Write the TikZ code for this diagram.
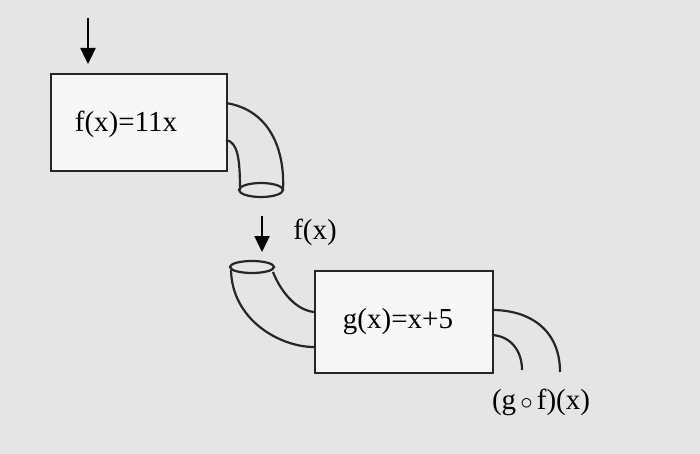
\documentclass[tikz,border=0pt]{standalone}
\usepackage{fontspec}
\setmainfont{Liberation Serif}
\usetikzlibrary{arrows.meta}
\begin{document}
\begin{tikzpicture}[x=1pt,y=-1pt,
  ln/.style={line width=2.2pt,black!85},
  bx/.style={draw=black!85,line width=2.2pt,fill=black!3},
  lbl/.style={font=\fontsize{29}{32}\selectfont},
  arr/.style={line width=2.4pt,-{Triangle[length=16pt,width=15pt]}}]
\fill[black!10] (0,0) rectangle (700,454);
\useasboundingbox (0,0) rectangle (700,454);
% box f
\node[bx,minimum width=176pt,minimum height=97pt,anchor=north west] (f) at (50,73) {};
\node[lbl] (ft) at (126,124) {f(x)=11x};
\coordinate (ftop) at (88,18);
\coordinate (fbot) at (88,64);
\draw[arr] (ftop) -- (fbot);
% pipe 1
\draw[ln] (226,103) .. controls (270,110) and (285,150) .. (283,190);
\draw[ln] (226,140) .. controls (238,142) and (240,160) .. (240,190);
\draw[ln] (261,190) ellipse (22 and 7);
% arrow f(x)
\coordinate (a1) at (262,216); \coordinate (a2) at (262,252);
\draw[arr] (a1) -- (a2);
\node[lbl] (fx) at (315,232) {f(x)};
% pipe 2
\draw[ln] (252,267) ellipse (22 and 6);
\node[bx,minimum width=178pt,minimum height=102pt,anchor=north west] (g) at (314,270) {};
\node[lbl] (gt) at (398,322) {g(x)=x+5};
\draw[ln] (231,270) .. controls (232,320) and (280,347) .. (314,347);
\draw[ln] (273,272) .. controls (280,290) and (295,310) .. (314,312);
% output pipe
\draw[ln] (492,310) .. controls (530,310) and (560,330) .. (560,372);
\draw[ln] (492,335) .. controls (510,336) and (522,350) .. (522,370);
\node[lbl] (gf) at (541,402) {(g$\,\circ\,$f)(x)};
\end{tikzpicture}
\end{document}
